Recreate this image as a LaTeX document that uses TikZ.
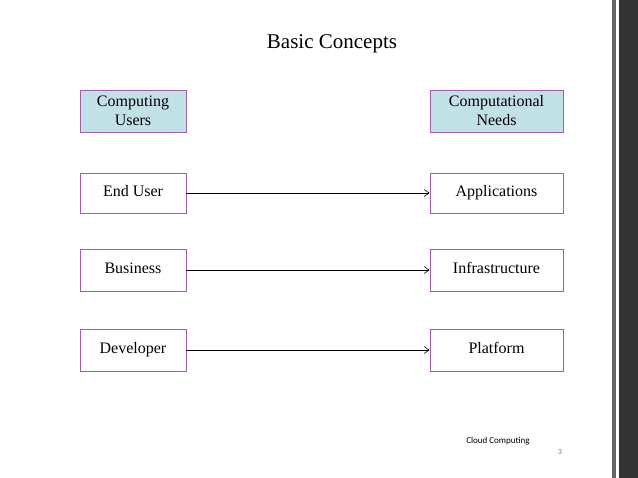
\documentclass[tikz,border=0pt]{standalone}
\usepackage{fontspec}
\usetikzlibrary{arrows.meta}
\setmainfont{Liberation Serif}
\newfontfamily\sansf{Carlito}
\definecolor{boxline}{HTML}{A060A8}
\definecolor{hdrfill}{HTML}{C2E1E6}
\begin{document}
\begin{tikzpicture}[x=1pt,y=-1pt,
  box/.style={draw=boxline, line width=0.8pt, font=\fontsize{16}{19}\selectfont, align=center, inner sep=0pt},
  one/.style={text height=11pt, text depth=3pt},
  lbox/.style={box, minimum width=106, minimum height=40},
  rbox/.style={box, minimum width=133, minimum height=40},
  hdr/.style={fill=hdrfill, minimum height=42},
  link/.style={-{Straight Barb[length=5pt,width=7pt]}, line width=0.6pt}]
\useasboundingbox (0,0) rectangle (638,478);
\fill[white] (0,0) rectangle (638,478);
% right edge strip
\fill[black!80] (619,0) rectangle (638,478);
\fill[black!60] (612,0) rectangle (616,478);
\node[font=\fontsize{21}{25}\selectfont] (title) at (332,44) {Basic Concepts};
\node[lbox, hdr] (cu) at (133,111) {Computing\\Users};
\node[rbox, hdr] (cn) at (496.5,111) {Computational\\Needs};
\node[lbox, one] (eu) at (133,193) {End User};
\node[rbox, one] (ap) at (496.5,193) {Applications};
\node[lbox, one, minimum height=42] (bu) at (133,270) {Business};
\node[rbox, one, minimum height=42] (in) at (496.5,270) {Infrastructure};
\node[lbox, one, minimum height=42] (de) at (133,350) {Developer};
\node[rbox, one, minimum height=42] (pl) at (496.5,350) {Platform};
\draw[link] (eu) -- (ap);
\draw[link] (bu) -- (in);
\draw[link] (de) -- (pl);
\node[font=\sansf\fontsize{9}{10}\selectfont] (cc) at (498,441) {Cloud Computing};
\node[font=\sansf\fontsize{8}{9}\selectfont, text=black!50] (pg) at (560,452) {3};
\end{tikzpicture}
\end{document}
